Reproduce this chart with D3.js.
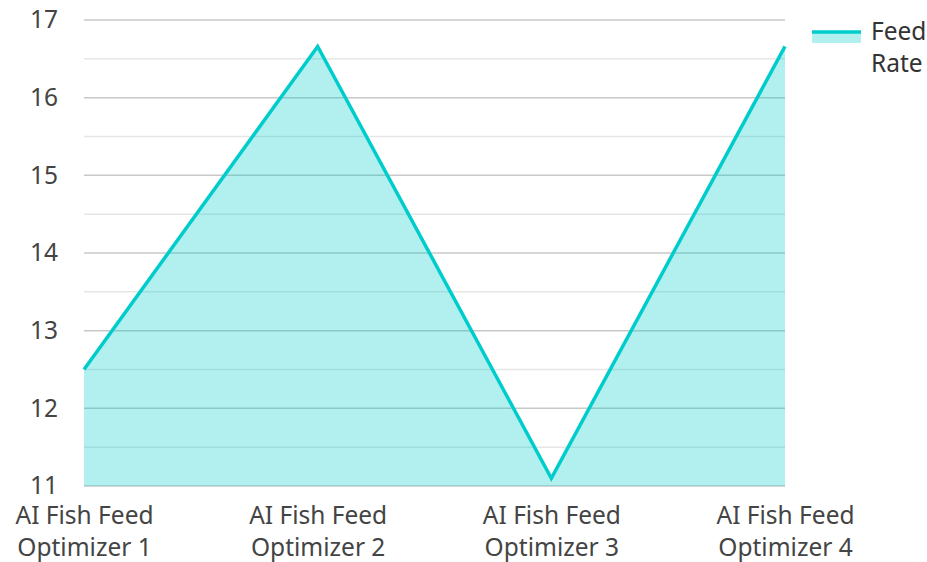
<!DOCTYPE html>
<html>
<head>
<meta charset="utf-8">
<script src="https://cdn.jsdelivr.net/npm/d3@7/dist/d3.min.js"></script>
<style>
  html, body { margin: 0; padding: 0; background: #fff; }
  svg { display: block; font-family: "Noto Sans", "Open Sans", sans-serif; }
</style>
</head>
<body>
<svg id="chart" width="927" height="562"></svg>
<script>
// Feed rate per optimizer
const categories = ["AI Fish Feed Optimizer 1", "AI Fish Feed Optimizer 2", "AI Fish Feed Optimizer 3", "AI Fish Feed Optimizer 4"];
const feedRate = [12.5, 16.66, 11.1, 16.66];
const yTicks = [11, 12, 13, 14, 15, 16, 17];
const yMinorTicks = [11.5, 12.5, 13.5, 14.5, 15.5, 16.5];
const seriesName = ["Feed", "Rate"];

const W = 927, H = 562;
const margin = { left: 84, right: 142, top: 20, bottom: 76 };
const svg = d3.select("#chart");
const fontFamily = "'Noto Sans', 'Open Sans', sans-serif";
const fontSize = 24.5;

const x = d3.scalePoint().domain(categories).range([margin.left, W - margin.right]);
const y = d3.scaleLinear().domain([11, 17]).range([H - margin.bottom, margin.top]);

const lineColor = "#00cccc";
const textColor = "#444";

// grid lines
const grid = svg.append("g");
grid.selectAll("line.minor").data(yMinorTicks).join("line")
  .attr("class", "minor")
  .attr("x1", margin.left).attr("x2", W - margin.right)
  .attr("y1", d => y(d)).attr("y2", d => y(d))
  .attr("stroke", "#e6e6e6").attr("stroke-width", 1.5);
grid.selectAll("line.major").data(yTicks).join("line")
  .attr("class", "major")
  .attr("x1", margin.left).attr("x2", W - margin.right)
  .attr("y1", d => y(d)).attr("y2", d => y(d))
  .attr("stroke", "#c8c8c8").attr("stroke-width", 1.5);

// area and line
const area = d3.area()
  .x((d, i) => x(categories[i]))
  .y0(y(11))
  .y1(d => y(d));
svg.append("path").datum(feedRate)
  .attr("d", area)
  .attr("fill", lineColor).attr("fill-opacity", 0.3);

const line = d3.line()
  .x((d, i) => x(categories[i]))
  .y(d => y(d));
svg.append("path").datum(feedRate)
  .attr("d", line)
  .attr("fill", "none").attr("stroke", lineColor).attr("stroke-width", 3.5);

// y axis labels
const yAxis = svg.append("g")
  .attr("transform", `translate(${margin.left},0)`)
  .call(d3.axisLeft(y).tickValues(yTicks).tickSize(0).tickPadding(26).tickFormat(d3.format("d")));
yAxis.select(".domain").remove();
yAxis.selectAll("text")
  .attr("font-size", fontSize).attr("fill", textColor)
  .attr("font-family", fontFamily);

// x axis labels (wrapped into two lines)
const xAxis = svg.append("g")
  .attr("transform", `translate(0,${H - margin.bottom})`)
  .call(d3.axisBottom(x).tickSize(0).tickPadding(0));
xAxis.select(".domain").remove();
xAxis.selectAll("text").each(function(d) {
  const t = d3.select(this);
  const words = d.split(" ");
  const first = words.slice(0, 3).join(" ");
  const second = words.slice(3).join(" ");
  t.text(null)
    .attr("font-size", fontSize).attr("fill", textColor)
    .attr("font-family", fontFamily)
    .attr("dy", null).attr("y", 0);
  t.append("tspan").attr("x", 0).attr("y", 38).text(first);
  t.append("tspan").attr("x", 0).attr("y", 70).text(second);
});

// legend
const lg = svg.append("g").attr("transform", "translate(812,32)");
lg.append("rect").attr("x", 0).attr("y", 0).attr("width", 49).attr("height", 11)
  .attr("fill", lineColor).attr("fill-opacity", 0.3);
lg.append("line").attr("x1", 0).attr("x2", 49).attr("y1", 0).attr("y2", 0)
  .attr("stroke", lineColor).attr("stroke-width", 3.5);
lg.append("text").attr("x", 59).attr("y", 8)
  .attr("font-size", fontSize).attr("fill", "#333").attr("font-family", fontFamily)
  .selectAll("tspan").data(seriesName).join("tspan")
  .attr("x", 59).attr("dy", (d, i) => i === 0 ? 0 : 32).text(d => d);
</script>
</body>
</html>
